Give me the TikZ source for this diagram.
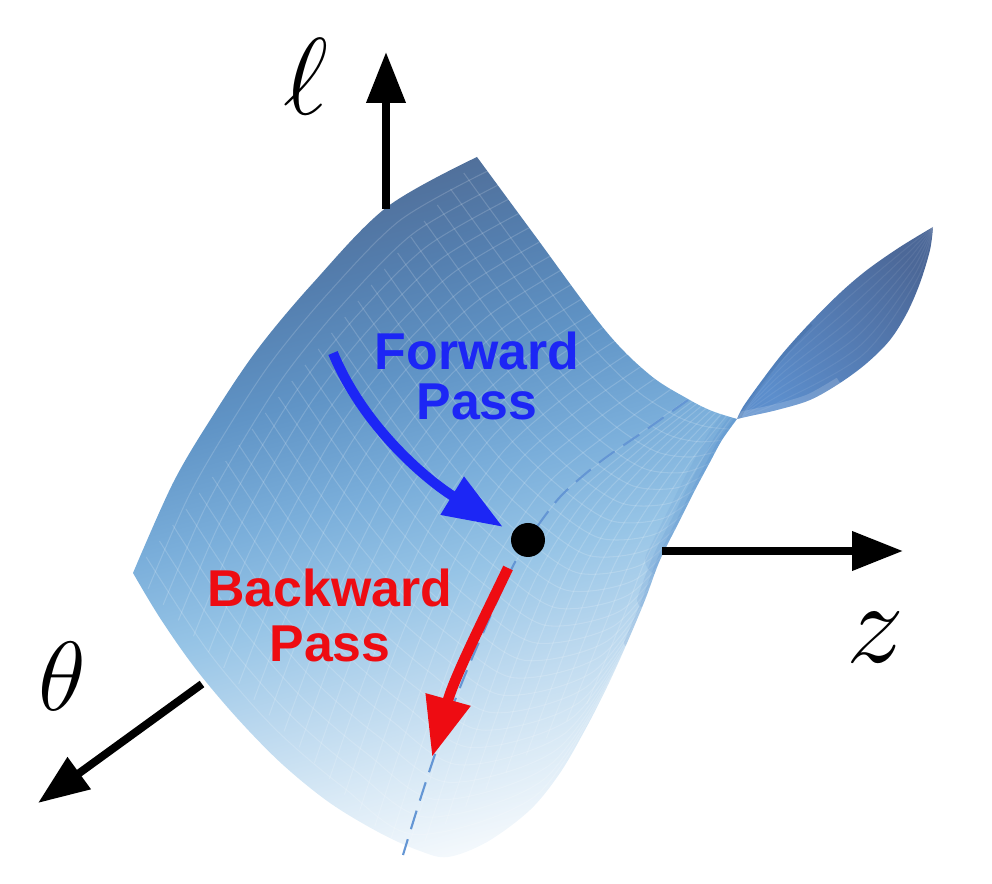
\documentclass[tikz,border=0pt]{standalone}
\usepackage{graphicx}
\usepackage{fontspec}
\setmainfont{Liberation Sans}
\usetikzlibrary{arrows.meta,calc}
\definecolor{fwdblue}{RGB}{28,38,245}
\definecolor{bwdred}{RGB}{238,12,18}
\definecolor{dashblue}{RGB}{100,150,212}
\definecolor{sA}{RGB}{80,110,152}
\definecolor{sB}{RGB}{84,126,174}
\definecolor{sC}{RGB}{96,148,198}
\definecolor{sD}{RGB}{122,174,218}
\definecolor{sE}{RGB}{150,196,230}
\definecolor{sF}{RGB}{185,215,238}
\definecolor{sG}{RGB}{218,234,246}
\definecolor{sH}{RGB}{243,248,252}
\definecolor{taildark}{RGB}{76,104,152}
\definecolor{taillight}{RGB}{92,142,204}
\definecolor{foldc}{RGB}{55,115,190}
\pgfdeclareverticalshading{surfshade}{100bp}{color(0bp)=(sH); color(25bp)=(sH); color(31bp)=(sG); color(38bp)=(sF); color(45bp)=(sE); color(52bp)=(sD); color(60bp)=(sC); color(68bp)=(sB); color(75bp)=(sA); color(100bp)=(sA)}
\newcommand\bigmath[2]{\scalebox{#1}{\fontsize{24.88pt}{25pt}\selectfont$#2$}}
\begin{document}
\begin{tikzpicture}[x=0.02cm,y=-0.02cm,
  outline/.style={insert path={(477,157) -- plot[smooth,tension=0.55] coordinates {(477,157) (387,207) (313,283) (257,350) (212,417) (173,483) (133,573)} -- plot[smooth,tension=0.55] coordinates {(133,573) (160,618) (195,668) (237,718) (282,764) (330,803) (380,833) (420,851) (448,857) (487,842) (530,810) (560,773) (585,730) (607,687) (627,643) (645,600) (660,560) (680,520) (695,490) (710,462) (722,440) (737,419)} -- plot[smooth,tension=0.55] coordinates {(737,419) (712,411) (688,399) (650,375) (605,330) (533,233) (477,157)} -- cycle}},
  tailpath/.style={insert path={(737,419) -- plot[smooth,tension=0.55] coordinates {(737,419) (743,407) (760,383) (783,353) (810,323) (840,293) (867,270) (900,247) (933,227)} -- plot[smooth,tension=0.55] coordinates {(933,227) (930,250) (920,283) (907,313) (890,340) (867,363) (840,383) (810,400) (777,410) (750,416) (737,419)} -- cycle}},
  axisarrow/.style={line width=4.5pt, -{Triangle[length=29pt,width=21.5pt]}},
  fwdarrow/.style={draw=fwdblue, line width=5.7pt, -{Triangle[length=34pt,width=24pt]}},
  bwdarrow/.style={draw=bwdred, line width=6pt, -{Triangle[length=34pt,width=25pt]}},
  gridline/.style={white, opacity=0.16, line width=0.6pt},
  ridge/.style={draw=dashblue, line width=1.2pt, dash pattern=on 11pt off 6pt},
  passtext/.style={font=\fontsize{29.5pt}{30pt}\selectfont\bfseries, inner sep=0pt, anchor=base},
  mathlabel/.style={inner sep=0pt}]
\useasboundingbox (0,0) rectangle (992,884);
% sample points of the surface boundary
\coordinate (Le0) at (477,157); \coordinate (Le1) at (387,207); \coordinate (Le2) at (313,283);
\coordinate (Le3) at (257,350); \coordinate (Le4) at (212,417); \coordinate (Le5) at (173,483);
\coordinate (Le6) at (133,573);
\coordinate (Dl0) at (688,399); \coordinate (Dl1) at (620,448); \coordinate (Dl2) at (560,497);
\coordinate (Dl3) at (510,572); \coordinate (Dl4) at (470,663); \coordinate (Dl5) at (438,755);
\coordinate (Dl6) at (405,858);
\coordinate (Re0) at (737,419); \coordinate (Re1) at (710,462); \coordinate (Re2) at (680,520);
\coordinate (Re3) at (660,560); \coordinate (Re4) at (645,600); \coordinate (Re5) at (627,643);
\coordinate (Re6) at (607,687);
\coordinate (Bk0) at (477,157); \coordinate (Bk1) at (545,250); \coordinate (Bk2) at (605,330);
\coordinate (Bk3) at (650,375); \coordinate (Bk4) at (688,399); \coordinate (Bk5) at (712,411);
\coordinate (Bk6) at (737,419);
\coordinate (Fr0) at (133,573); \coordinate (Fr1) at (195,668); \coordinate (Fr2) at (260,743);
\coordinate (Fr3) at (330,803); \coordinate (Fr4) at (405,852); \coordinate (Fr5) at (530,810);
\coordinate (Fr6) at (607,687);
% surface
\shade[shading=surfshade, shading angle=15, outline];
\begin{scope}
  \clip[outline];
  \foreach \k in {1,...,17}{
    \pgfmathsetmacro\tt{\k/18}
    \draw[gridline] plot[smooth] coordinates {($(Le0)!\tt!(Dl0)$) ($(Le1)!\tt!(Dl1)$) ($(Le2)!\tt!(Dl2)$) ($(Le3)!\tt!(Dl3)$) ($(Le4)!\tt!(Dl4)$) ($(Le5)!\tt!(Dl5)$) ($(Le6)!\tt!(Dl6)$)};
  }
  \foreach \k in {0,...,9}{
    \pgfmathsetmacro\tt{\k/10}
    \draw[gridline] plot[smooth] coordinates {($(Dl0)!\tt!(Re0)$) ($(Dl1)!\tt!(Re1)$) ($(Dl2)!\tt!(Re2)$) ($(Dl3)!\tt!(Re3)$) ($(Dl4)!\tt!(Re4)$) ($(Dl5)!\tt!(Re5)$) ($(Dl6)!\tt!(Re6)$)};
  }
  \foreach \k in {1,...,25}{
    \pgfmathsetmacro\tt{\k/26}
    \draw[gridline] plot[smooth] coordinates {($(Bk0)!\tt!(Fr0)$) ($(Bk1)!\tt!(Fr1)$) ($(Bk2)!\tt!(Fr2)$) ($(Bk3)!\tt!(Fr3)$) ($(Bk4)!\tt!(Fr4)$) ($(Bk5)!\tt!(Fr5)$) ($(Bk6)!\tt!(Fr6)$)};
  }
  % fold along the right silhouette
  \draw[foldc, opacity=0.09, line width=17pt, line cap=round] plot[smooth] coordinates {(740,416) (722,440) (710,462) (695,490) (680,520) (660,560)};
  \draw[foldc, opacity=0.12, line width=9pt, line cap=round] plot[smooth] coordinates {(740,416) (722,440) (710,462) (695,490) (680,520) (660,560) (645,600)};
  \draw[foldc, opacity=0.14, line width=3.5pt, line cap=round] plot[smooth] coordinates {(740,416) (722,440) (710,462) (695,490) (680,520) (660,560) (645,600) (627,643)};
\end{scope}
% far part of the saddle, rising behind the fold
\shade[top color=taildark, bottom color=taillight, shading angle=-45, tailpath];
\begin{scope}
  \clip[tailpath];
  \foreach \k in {1,...,7}{
    \pgfmathsetmacro\tt{\k/8}
    \draw[white, opacity=0.07, line width=0.6pt] plot[smooth] coordinates {(737,419) ($(783,353)!\tt!(777,410)$) ($(840,293)!\tt!(867,363)$) ($(900,247)!\tt!(920,283)$) (933,227)};
  }
  \draw[white, opacity=0.16, line width=7pt] plot[smooth] coordinates {(740,418) (777,410) (810,400) (840,383)};
  \draw[foldc!70!black, opacity=0.18, line width=4pt] plot[smooth] coordinates {(737,419) (743,407) (760,383) (783,353) (810,323)};
\end{scope}
% ridge line
\draw[ridge] plot[smooth] coordinates {(688,400) (640,434) (600,462) (560,497) (528,540) (510,572) (490,617) (465,675) (440,740) (420,800) (403,855)};
% axes
\coordinate (lbase) at (386,209); \coordinate (ltip) at (386,52);
\coordinate (zbase) at (662,551); \coordinate (ztip) at (903,551);
\coordinate (tbase) at (202,684); \coordinate (ttip) at (38,803);
\draw[axisarrow] (lbase) -- (ltip);
\draw[axisarrow] (zbase) -- (ztip);
\draw[axisarrow] (tbase) -- (ttip);
\node[mathlabel] (ell) at (306,77) {\bigmath{2.5}{\ell}};
\node[mathlabel] (zlab) at (875,638) {\bigmath{2.65}{z}};
\node[mathlabel] (thlab) at (62,676) {\bigmath{2.25}{\theta}};
% critical point and passes
\node[circle, fill=black, minimum size=0.68cm, inner sep=0pt] (dot) at (528,540) {};
\coordinate (fstart) at (333,353); \coordinate (ftip) at (503,527);
\coordinate (bstart) at (508,568); \coordinate (btip) at (432,757);
\draw[fwdarrow] (fstart) .. controls (365,430) and (430,482) .. (ftip);
\draw[bwdarrow] (bstart) .. controls (488,610) and (455,675) .. (btip);
\node[passtext, text=fwdblue] (fwd1) at (477,370) {Forward};
\node[passtext, text=fwdblue] (fwd2) at (477,420) {Pass};
\node[passtext, text=bwdred] (bwd1) at (330,607) {Backward};
\node[passtext, text=bwdred] (bwd2) at (330,662) {Pass};
\end{tikzpicture}
\end{document}
